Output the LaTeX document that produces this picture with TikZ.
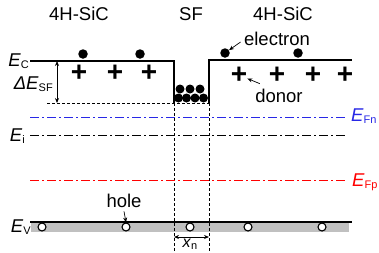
\documentclass[tikz,border=0pt]{standalone}
\usepackage{fontspec}
\setmainfont{Liberation Sans}
\usetikzlibrary{arrows.meta}
\definecolor{fnblue}{RGB}{40,40,230}
\definecolor{fpred}{RGB}{255,0,0}
\definecolor{bandgray}{RGB}{192,192,192}
\newcommand{\lvl}[2]{\textit{#1}\raisebox{-2pt}{\fontsize{11}{11}\selectfont #2}}

\begin{document}
\begin{tikzpicture}[x=1pt,y=-1pt,>={Stealth[length=5pt,width=4pt]},
    font=\fontsize{18.5}{20}\selectfont,
    level/.style={line width=1.1pt},
    fermi/.style={line width=1pt,dash pattern=on 9pt off 3pt on 2pt off 3pt},
    guide/.style={line width=0.8pt,dash pattern=on 3pt off 2pt},
    elec/.style={circle,fill,inner sep=0pt,minimum size=9.5pt},
    sfelec/.style={circle,fill,inner sep=0pt,minimum size=9pt},
    holecirc/.style={circle,draw,fill=white,line width=1.1pt,inner sep=0pt,minimum size=8pt},
    plus/.style={inner sep=0pt,font=\fontsize{28}{28}\selectfont\bfseries}]
    \useasboundingbox (0,0) rectangle (379,252);

    % titles
    \node (tl) at (79,14) {4H-SiC};
    \node (tsf) at (191,14) {SF};
    \node (tr) at (283,14) {4H-SiC};

    % valence band
    \fill[bandgray] (31,222) rectangle (349,232);
    \coordinate (v1) at (30,222);
    \coordinate (v2) at (352,222);
    \draw[level] (v1) -- (v2);

    % conduction band with SF well
    \coordinate (c1) at (30,61);
    \coordinate (c2) at (174,61);
    \coordinate (c3) at (174,103);
    \coordinate (c4) at (209,103);
    \coordinate (c5) at (209,60);
    \coordinate (c6) at (352,60);
    \draw[level] (c1) -- (c2) -- (c3);
    \draw[level] (c4) -- (c5) -- (c6);
    \coordinate (d1) at (47,103);
    \draw[guide] (d1) -- (c4);
    \coordinate (g1) at (174,252);
    \coordinate (g2) at (209,252);
    \draw[guide] (c3) -- (g1);
    \draw[guide] (c4) -- (g2);

    % Fermi levels
    \coordinate (fn1) at (30,117);
    \coordinate (fn2) at (346,117);
    \coordinate (fi1) at (30,135);
    \coordinate (fi2) at (346,135);
    \coordinate (fp1) at (30,180);
    \coordinate (fp2) at (346,180);
    \draw[fermi,fnblue] (fn1) -- (fn2);
    \draw[fermi,black] (fi1) -- (fi2);
    \draw[fermi,fpred] (fp1) -- (fp2);

    % level labels
    \node[anchor=east,inner sep=0pt] (ec) at (29,61) {\lvl{E}{C}};
    \node[anchor=east,inner sep=0pt] (dsf) at (53,84) {\lvl{ΔE}{SF}};
    \node[anchor=east,inner sep=0pt] (ei) at (25,136) {\lvl{E}{i}};
    \node[anchor=east,inner sep=0pt] (ev) at (31,227) {\lvl{E}{V}};
    \node[anchor=west,inner sep=0pt,text=fnblue] (efn) at (351,116) {\lvl{E}{Fn}};
    \node[anchor=west,inner sep=0pt,text=fpred] (efp) at (352,182) {\lvl{E}{Fp}};

    % band offset arrow
    \coordinate (a1) at (57,61);
    \coordinate (a2) at (57,103);
    \draw[<->,line width=0.8pt] (a1) -- (a2);

    % electrons
    \node[elec] (e1) at (83,54) {};
    \node[elec] (e2) at (140,54) {};
    \node[elec] (e3) at (225,53) {};
    \node[elec] (e4) at (298,53) {};
    \foreach \x in {178.5,186.5,195,203.5}
        \node[sfelec] at (\x,98) {};
    \foreach \x in {180,190,200}
        \node[sfelec] at (\x,89) {};

    % donors
    \node[plus] (p1) at (79,73) {+};
    \node[plus] (p2) at (115,73) {+};
    \node[plus] (p3) at (149,73) {+};
    \node[plus] (p4) at (239,75) {+};
    \node[plus] (p5) at (277,75) {+};
    \node[plus] (p6) at (313,75) {+};
    \node[plus] (p7) at (345,75) {+};

    % holes
    \foreach \x/\n in {42/h1,126/h2,190/h3,248/h4,322/h5}
        \node[holecirc] (\n) at (\x,227) {};

    % annotations
    \node (lel) at (277,39) {electron};
    \node (ldo) at (279,96) {donor};
    \node (lho) at (124,201) {hole};
    \draw[->,line width=0.7pt] (lel.west) ++(0,3) -- (e3);
    \draw[->,line width=0.7pt] (ldo.north west) ++(8,-2) -- (p4);
    \draw[->,line width=0.7pt] (lho.south) -- (h2.north);

    % depletion width
    \coordinate (x1) at (174,237);
    \coordinate (x2) at (209,237);
    \draw[<->,line width=0.8pt] (x1) -- (x2);
    \node[inner sep=0pt,font=\fontsize{16}{16}\selectfont] (lxn) at (190,244) {\lvl{x}{n}};
\end{tikzpicture}
\end{document}
